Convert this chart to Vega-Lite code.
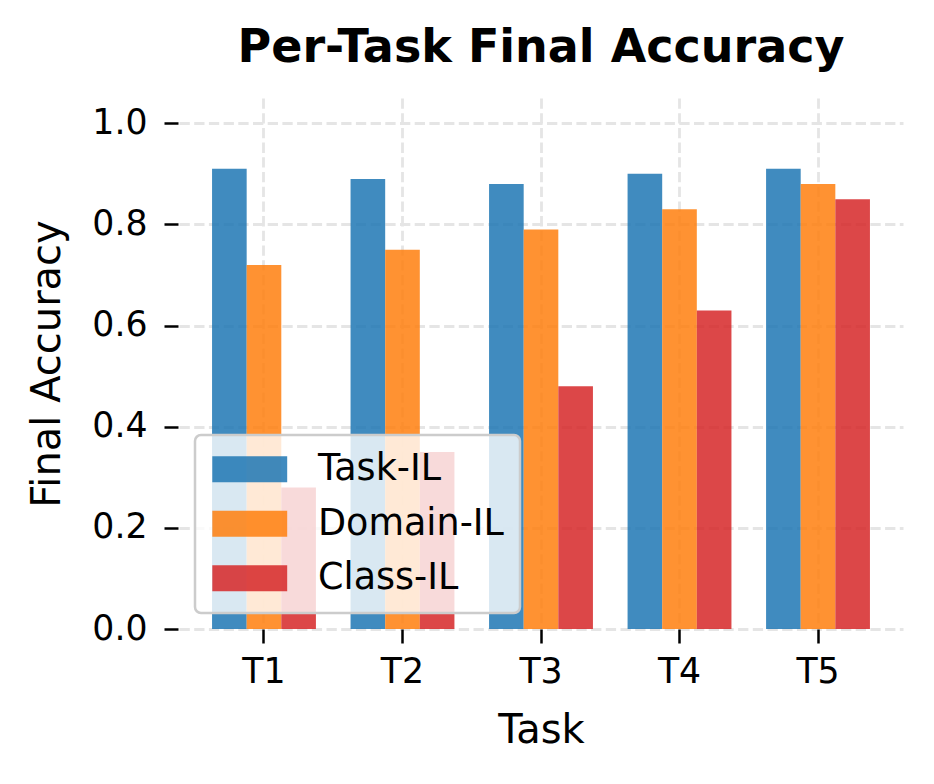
{
  "$schema": "https://vega.github.io/schema/vega-lite/v6.json",
  "autosize": "none",
  "width": 724,
  "height": 531,
  "padding": {"left": 179, "top": 98, "right": 31, "bottom": 155},
  "background": "white",
  "title": {
    "text": "Per-Task Final Accuracy",
    "font": "DejaVu Sans",
    "fontSize": 46,
    "fontWeight": "bold",
    "color": "black",
    "anchor": "middle",
    "offset": 26
  },
  "data": {
    "values": [
      {"task": "T1", "setting": "Task-IL", "accuracy": 0.91},
      {"task": "T1", "setting": "Domain-IL", "accuracy": 0.72},
      {"task": "T1", "setting": "Class-IL", "accuracy": 0.28},
      {"task": "T2", "setting": "Task-IL", "accuracy": 0.89},
      {"task": "T2", "setting": "Domain-IL", "accuracy": 0.75},
      {"task": "T2", "setting": "Class-IL", "accuracy": 0.35},
      {"task": "T3", "setting": "Task-IL", "accuracy": 0.88},
      {"task": "T3", "setting": "Domain-IL", "accuracy": 0.79},
      {"task": "T3", "setting": "Class-IL", "accuracy": 0.48},
      {"task": "T4", "setting": "Task-IL", "accuracy": 0.90},
      {"task": "T4", "setting": "Domain-IL", "accuracy": 0.83},
      {"task": "T4", "setting": "Class-IL", "accuracy": 0.63},
      {"task": "T5", "setting": "Task-IL", "accuracy": 0.91},
      {"task": "T5", "setting": "Domain-IL", "accuracy": 0.88},
      {"task": "T5", "setting": "Class-IL", "accuracy": 0.85}
    ]
  },
  "mark": {"type": "bar", "opacity": 0.85},
  "encoding": {
    "x": {
      "field": "task",
      "type": "nominal",
      "title": "Task",
      "scale": {"paddingInner": 0.25, "paddingOuter": 0.2386},
      "axis": {
        "labelAngle": 0,
        "bandPosition": 0.5,
        "grid": true,
        "domain": false,
        "tickSize": 14,
        "tickWidth": 2.5,
        "tickColor": "black",
        "labelPadding": 12,
        "titlePadding": 22
      }
    },
    "xOffset": {
      "field": "setting",
      "type": "nominal",
      "sort": ["Task-IL", "Domain-IL", "Class-IL"],
      "scale": {"paddingInner": 0, "paddingOuter": 0}
    },
    "y": {
      "field": "accuracy",
      "type": "quantitative",
      "title": "Final Accuracy",
      "scale": {"domain": [0, 1.05], "nice": false, "zero": true},
      "axis": {
        "values": [0, 0.2, 0.4, 0.6, 0.8, 1.0],
        "format": ".1f",
        "grid": true,
        "domain": false,
        "tickSize": 14,
        "tickWidth": 2.5,
        "tickColor": "black",
        "offset": 1,
        "labelPadding": 17,
        "titlePadding": 24
      }
    },
    "color": {
      "field": "setting",
      "type": "nominal",
      "sort": ["Task-IL", "Domain-IL", "Class-IL"],
      "scale": {
        "domain": ["Task-IL", "Domain-IL", "Class-IL"],
        "range": ["#1f77b4", "#ff7f0e", "#d62728"]
      },
      "legend": {
        "title": null,
        "orient": "none",
        "legendX": 16,
        "legendY": 337,
        "padding": 16,
        "fillColor": "rgba(255,255,255,0.8)",
        "strokeColor": "#cccccc",
        "cornerRadius": 6,
        "symbolType": "M-2.88,-1H2.88V1H-2.88Z",
        "symbolSize": 676,
        "symbolOffset": 20.5,
        "symbolOpacity": 0.85,
        "symbolStrokeWidth": 0,
        "labelOffset": 50,
        "labelLimit": 0,
        "labelFont": "DejaVu Sans",
        "labelFontSize": 36.5,
        "labelColor": "black",
        "rowPadding": 17.5
      }
    }
  },
  "config": {
    "view": {"stroke": null},
    "legend": {"strokeWidth": 2.5},
    "axis": {
      "labelFont": "DejaVu Sans",
      "labelFontSize": 34.7,
      "labelColor": "black",
      "titleFont": "DejaVu Sans",
      "titleFontSize": 40,
      "titleFontWeight": "normal",
      "titleColor": "black",
      "gridColor": "#e5e5e5",
      "gridWidth": 2.8,
      "gridDash": [10.3, 4.4]
    }
  }
}
